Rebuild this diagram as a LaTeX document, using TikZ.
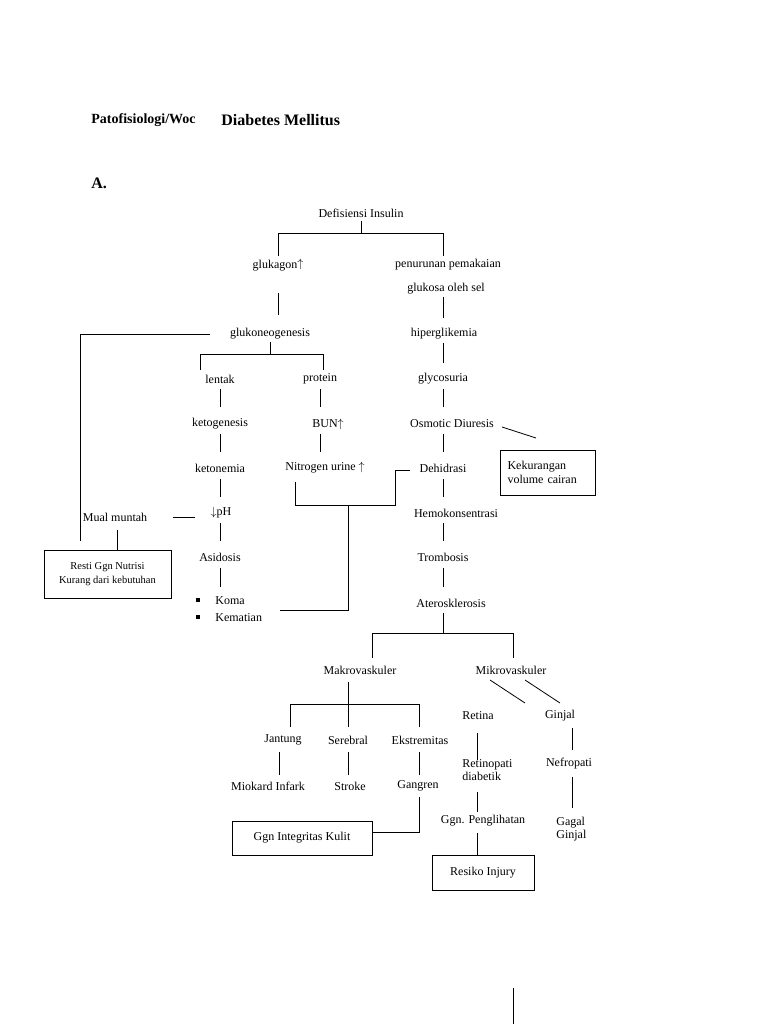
\documentclass[tikz,border=0pt]{standalone}
\usepackage{fontspec}
\setmainfont{Liberation Serif}
\begin{document}
\begin{tikzpicture}[x=1pt,y=-1pt,
  t/.style={inner sep=0pt,font=\fontsize{12}{13}\selectfont,align=center},
  tl/.style={t,anchor=west,align=left},
  bx/.style={draw,thick,inner sep=0pt},
  every path/.style={line width=0.8pt}]
\useasboundingbox (0,0) rectangle (768,1024);
\node[anchor=west,inner sep=0pt,font=\fontsize{14}{16}\selectfont\bfseries] (tit) at (91,120) {Patofisiologi/Woc};
\node[anchor=west,inner sep=0pt,font=\fontsize{16}{18}\selectfont\bfseries] (tit2) at (221,120) {Diabetes Mellitus};
\node[anchor=west,inner sep=0pt,font=\fontsize{16}{18}\selectfont\bfseries] (A) at (91,183) {A.};
% nodes
\node[t] (def) at (361,213) {Defisiensi Insulin};
\node[t] (glukagon) at (278,265) {glukagon\raisebox{0.5pt}{$\uparrow$}};
\node[t] (penurunan) at (448,265) {penurunan pemakaian};
\node[t] (glukosa) at (446,289) {glukosa oleh sel};
\node[t] (gluko) at (270,334) {glukoneogenesis};
\node[t] (hiper) at (444,334) {hiperglikemia};
\node[t] (lentak) at (220,379) {lentak};
\node[t] (protein) at (320,379) {protein};
\node[t] (glyco) at (443,379) {glycosuria};
\node[t] (keto) at (220,424) {ketogenesis};
\node[t] (bun) at (328,424) {BUN$\uparrow$};
\node[t] (osm) at (452,424) {Osmotic Diuresis};
\node[t] (ketonemia) at (220,468) {ketonemia};
\node[t] (nitro) at (325,468) {Nitrogen urine $\uparrow$};
\node[t] (dehi) at (443,468) {Dehidrasi};
\node[t] (ph) at (221,513) {$\downarrow$pH};
\node[t] (mual) at (115,517) {Mual muntah};
\node[t] (hemo) at (456,513) {Hemokonsentrasi};
\node[t] (asi) at (220,557) {Asidosis};
\node[t] (trom) at (443,557) {Trombosis};
\node[tl] (koma) at (215,601) {Koma};
\node[tl] (kem) at (215,618) {Kematian};
\node[inner sep=0pt,fill,minimum size=4pt] (b1) at (198,600) {};
\node[inner sep=0pt,fill,minimum size=4pt] (b2) at (198,617) {};
\node[t] (ater) at (451,603) {Aterosklerosis};
\node[bx,minimum width=127pt,minimum height=48pt,font=\fontsize{10.5}{14}\selectfont,align=center] (resti) at (107.5,574) {Resti Ggn Nutrisi\\Kurang dari kebutuhan};
\node[bx,minimum width=95pt,minimum height=45pt,font=\fontsize{12}{14}\selectfont,align=left,text width=80pt] (kek) at (547.5,472.5) {Kekurangan\\volume cairan};
\node[t] (makro) at (360,670) {Makrovaskuler};
\node[t] (mikro) at (511,670) {Mikrovaskuler};
\node[t] (retina) at (478,716) {Retina};
\node[t] (ginjal) at (560,716) {Ginjal};
\node[t] (jan) at (283,740) {Jantung};
\node[t] (ser) at (348,740) {Serebral};
\node[t] (eks) at (420,740) {Ekstremitas};
\node[tl] (retino) at (462,770) {Retinopati\\diabetik};
\node[t] (nef) at (569,764) {Nefropati};
\node[t] (mio) at (268,786) {Miokard Infark};
\node[t] (str) at (350,786) {Stroke};
\node[t] (gang) at (418,786) {Gangren};
\node[t] (peng) at (483,821) {Ggn. Penglihatan};
\node[tl] (gagal) at (556,829) {Gagal\\Ginjal};
\node[bx,minimum width=140pt,minimum height=34pt,font=\fontsize{12}{14}\selectfont] (integ) at (302,838) {Ggn Integritas Kulit};
\node[bx,minimum width=102pt,minimum height=35pt,font=\fontsize{12}{14}\selectfont] (inj) at (483,872.5) {Resiko Injury};
% connectors
\draw (361,221) -- (361,233) (278,256) |- (443,233) -- (443,256);
\draw (278,293) -- (278,315);
\draw (443,297) -- (443,318);
\draw (210,334) -- (80,334) -- (80,541);
\draw (270,342) -- (270,354) (200,370) |- (323,354) -- (323,370);
\draw (220,389) -- (220,407) (220,434) -- (220,452) (220,479) -- (220,497) (220,523) -- (220,541) (220,568) -- (220,587);
\draw (320,389) -- (320,407) (320,434) -- (320,452);
\draw (173,517) -- (195,517);
\draw (117,530) -- (117,550);
\draw (295,482) -- (295,505) -- (395,505) -- (395,470) -- (410,470);
\draw (348,505) -- (348,610) -- (280,610);
\draw (443,343) -- (443,363) (443,389) -- (443,407) (443,434) -- (443,452) (443,479) -- (443,497) (443,523) -- (443,541) (443,568) -- (443,587);
\draw (502,427) -- (536,438);
\draw (443,613) -- (443,633) (372,658) |- (513,633) -- (513,658);
\draw (348,682) -- (348,704) (290,727) |- (419,704) -- (419,727) (348,704) -- (348,727);
\draw (490,680) -- (525,703) (525,680) -- (560,703);
\draw (279,752) -- (279,775) (348,752) -- (348,775) (419,752) -- (419,775);
\draw (419,797) -- (419,832) -- (373,832);
\draw (477,733) -- (477,760) (477,792) -- (477,812) (477,833) -- (477,855);
\draw (572,728) -- (572,750) (572,777) -- (572,808);
\draw (513,988) -- (513,1024);
\end{tikzpicture}
\end{document}
